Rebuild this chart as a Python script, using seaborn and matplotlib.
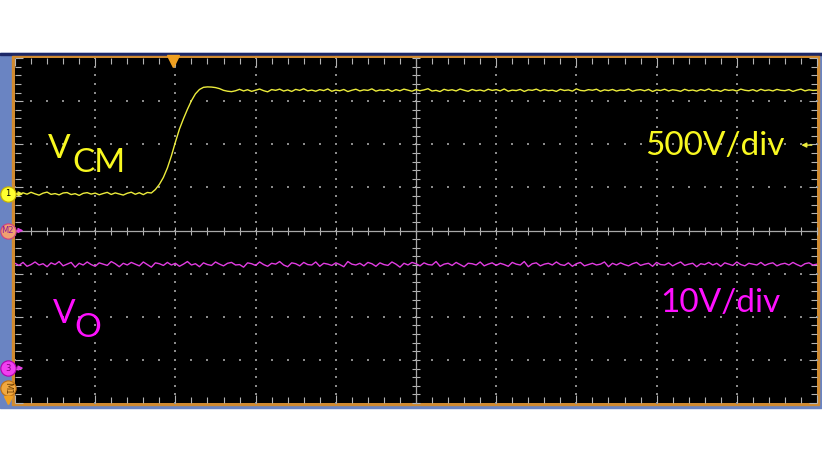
import numpy as np
import seaborn as sns
import matplotlib.pyplot as plt
from matplotlib.patches import Rectangle

# V_CM trace (channel 1, 500 V/div), volts, 201 samples over 10 div
vcm = [5, -10, 12, -4, 18, 0, -15, 8, 20, -6,
       3, -12, 10, 15, -8, 2, -18, 6, 14, -3,
       9, -11, 4, 17, -7, 11, -2, -14, 7, 19,
       -5, 13, -9, 16,
       10, 50, 110, 190, 300, 440, 600, 750, 870, 980,
       1080, 1160, 1210, 1235, 1240, 1238, 1232, 1220,
       1200, 1190, 1185, 1195, 1212, 1193, 1207, 1188, 1202, 1215,
       1196, 1183, 1209, 1200, 1214, 1192, 1205, 1187, 1211, 1199,
       1218, 1194, 1203, 1190, 1208, 1197, 1216, 1189, 1204, 1195,
       1210, 1186, 1201, 1213, 1193, 1206, 1199, 1217, 1191, 1204,
       1197, 1211, 1188, 1208, 1195, 1214, 1202, 1190, 1209, 1196,
       1205, 1219, 1192, 1200, 1186, 1212, 1198, 1207, 1193, 1215,
       1201, 1189, 1210, 1196, 1204, 1191, 1213, 1199, 1208, 1194,
       1216, 1190, 1203, 1197, 1211, 1187, 1206, 1200, 1214, 1193,
       1209, 1196, 1202, 1188, 1212, 1198, 1205, 1191, 1217, 1199,
       1194, 1208, 1201, 1213, 1189, 1206, 1197, 1210, 1192, 1204,
       1199, 1215, 1190, 1203, 1208, 1195, 1211, 1187, 1205, 1198,
       1213, 1193, 1207, 1200, 1189, 1212, 1196, 1204, 1191, 1209,
       1197, 1216, 1194, 1202, 1188, 1210, 1199, 1206, 1192, 1214,
       1201, 1195, 1208, 1190, 1212, 1197, 1205, 1193, 1211, 1200,
       1196, 1209, 1188, 1203, 1214, 1194, 1206, 1199, 1202]

# V_O trace (10 V/div), volts
vo = [-7.6, -8.1, -7.4, -8.3, -7.9, -7.3, -8.0, -7.7, -8.4, -7.5,
      -7.9, -7.2, -8.2, -7.8, -7.4, -8.5, -7.6, -8.0, -7.3, -7.9,
      -8.3, -7.5, -7.8, -8.1, -7.2, -7.7, -8.4, -7.6, -8.0, -7.4,
      -7.8, -8.2, -7.3, -7.9, -8.5, -7.5, -7.7, -8.1, -7.4, -8.0,
      -7.6, -8.3, -7.8, -7.2, -8.0, -7.7, -8.4, -7.5, -7.9, -8.1,
      -7.3, -7.8, -8.2, -7.6, -7.4, -8.0, -7.9, -8.5, -7.5, -7.7,
      -8.1, -7.3, -7.9, -8.3, -7.6, -7.8, -7.2, -8.0, -8.4, -7.5,
      -7.7, -8.2, -7.4, -7.9, -8.0, -7.3, -8.3, -7.6, -7.8, -8.1,
      -7.5, -7.9, -8.4, -7.2, -7.8, -8.0, -7.6, -8.2, -7.4, -7.7,
      -8.3, -7.5, -7.9, -8.1, -7.3, -7.8, -8.5, -7.6, -8.0, -7.4,
      -7.7, -8.2, -7.5, -7.9, -8.0, -7.2, -8.3, -7.8, -7.6, -8.1,
      -7.4, -7.9, -8.4, -7.6, -7.7, -8.0, -7.3, -8.2, -7.8, -7.5,
      -8.1, -7.6, -7.9, -8.3, -7.4, -7.8, -8.0, -7.2, -8.4, -7.7,
      -7.5, -8.2, -7.8, -7.6, -8.0, -7.3, -7.9, -8.1, -7.5, -8.3,
      -7.7, -7.4, -8.2, -7.9, -7.6, -8.0, -7.8, -7.3, -8.4, -7.6,
      -8.0, -7.5, -7.9, -8.2, -7.7, -7.4, -8.1, -7.8, -7.6, -8.3,
      -7.4, -7.9, -8.0, -7.5, -8.2, -7.7, -7.3, -8.1, -7.8, -7.6,
      -8.4, -7.7, -7.9, -7.4, -8.0, -7.6, -8.3, -7.5, -7.8, -8.1,
      -7.3, -7.9, -8.2, -7.6, -7.8, -8.0, -7.4, -8.1, -7.7, -7.5,
      -8.2, -7.8, -7.6, -8.0, -7.4, -7.9, -8.3, -7.7, -7.5, -8.0,
      -7.8]

ch1_scale, ch1_pos = 500, 0.85   # V/div, ground marker in div
vo_scale, vo_pos = 10, 0.0

yellow_tr = "#ecec3c"
yellow_tx = "#f8f820"
mag_tr = "#e23ce2"
mag_tx = "#ff10ff"
orange = "#d08a30"

fig = plt.figure(figsize=(8.22, 4.62), dpi=100, facecolor="white")
W, H = 822, 462


def frect(x0, y0, x1, y1, color):
    fig.patches.append(Rectangle((x0 / W, (H - y1) / H), (x1 - x0) / W, (y1 - y0) / H,
                                 transform=fig.transFigure, color=color, zorder=-1))


# scope frame
frect(0, 53, 822, 408, "#6a84c2")
frect(0, 53, 822, 55, "#1c2766")
frect(12, 56, 819, 405, orange)

rect = [15 / W, (H - 403) / H, 802 / W, 345 / H]
ax = fig.add_axes(rect)
ax.set_zorder(1)
ax.set_facecolor("black")
ax.set_xlim(-5, 5)
ax.set_ylim(-4, 4)
for s in ax.spines.values():
    s.set_visible(False)
ax.set_xticks(np.arange(-5, 5.01, 1))
ax.set_xticks(np.arange(-5, 5.01, 0.2), minor=True)
ax.set_yticks(np.arange(-4, 4.01, 1))
ax.set_yticks(np.arange(-4, 4.01, 0.2), minor=True)
ax.tick_params(which="both", direction="in", top=True, right=True, colors="#b4b4b4",
               labelleft=False, labelbottom=False, width=0.8)
ax.tick_params(which="major", length=6)
ax.tick_params(which="minor", length=4)

# dotted graticule
gx, gy = [], []
for xv in range(-4, 5):
    if xv != 0:
        for yv in np.arange(-4, 4.01, 0.2):
            gx.append(xv)
            gy.append(yv)
for yv in range(-3, 4):
    if yv != 0:
        for xv in np.arange(-5, 5.01, 0.2):
            gx.append(xv)
            gy.append(yv)
ax.scatter(gx, gy, s=1.6, marker="s", color="#8a8a8a", linewidths=0)

# centre cross + traces
ax2 = fig.add_axes(rect)
ax2.set_zorder(2)
ax2.patch.set_alpha(0)
ax2.set_xlim(-5, 5)
ax2.set_ylim(-4, 4)
ax2.spines["left"].set_position(("data", 0))
ax2.spines["bottom"].set_position(("data", 0))
ax2.spines["top"].set_visible(False)
ax2.spines["right"].set_visible(False)
for k in ("left", "bottom"):
    ax2.spines[k].set_color("#a8a8a8")
    ax2.spines[k].set_linewidth(0.9)
ax2.set_xticks([])
ax2.set_yticks([])
ax2.set_xticks(np.arange(-5, 5.01, 0.2), minor=True)
ax2.set_yticks(np.arange(-4, 4.01, 0.2), minor=True)
ax2.tick_params(which="minor", direction="inout", length=6, width=0.8, colors="#b4b4b4",
                labelleft=False, labelbottom=False)

t1 = np.linspace(-5, 5, len(vcm))
t2 = np.linspace(-5, 5, len(vo))
y1 = ch1_pos + np.array(vcm) / ch1_scale
y2 = vo_pos + np.array(vo) / vo_scale
sns.lineplot(x=t1, y=y1, ax=ax2, color=yellow_tr, linewidth=1.0, sort=False,
             estimator=None, zorder=4)
sns.lineplot(x=t2, y=y2, ax=ax2, color=mag_tr, linewidth=1.0, sort=False,
             estimator=None, zorder=4)
ax2.set_xlabel("")
ax2.set_ylabel("")

# labels
fam = ["Lato", "DejaVu Sans"]
fs = 24
ax2.text(-4.59, 1.68, "V", color=yellow_tx, fontsize=fs, family=fam, va="baseline")
ax2.text(-4.29, 1.36, "CM", color=yellow_tx, fontsize=fs, family=fam, va="baseline")
ax2.text(2.86, 1.75, "500V/div", color=yellow_tx, fontsize=fs, family=fam, va="baseline")
ax2.text(-4.53, -2.14, "V", color=mag_tx, fontsize=fs, family=fam, va="baseline")
ax2.text(-4.26, -2.47, "O", color=mag_tx, fontsize=fs, family=fam, va="baseline")
ax2.text(3.05, -1.89, "10V/div", color=mag_tx, fontsize=fs, family=fam, va="baseline")

# channel markers on left edge
mx = -5.09


def marker(y, face, edge, label, tcol, arrow_col=None, rot=0):
    ax2.plot(mx, y, "o", ms=11, mfc=face, mec=edge, mew=0.8, clip_on=False, zorder=6)
    ax2.text(mx, y, label, fontsize=6, color=tcol, ha="center", va="center",
             rotation=rot, clip_on=False, zorder=7)
    if arrow_col:
        ax2.annotate("", xy=(-4.86, y), xytext=(-5.01, y),
                     arrowprops=dict(arrowstyle="-|>", color=arrow_col, lw=1,
                                     mutation_scale=7), zorder=6)


marker(ch1_pos, "#ffff30", "#c8b000", "1", "black", yellow_tr)
marker(vo_pos, "#f0a070", "#d04080", "M2", "#8a1a9a", mag_tr)
marker(-3.19, "#f040f0", "#b000b0", "3", "#7a007a", mag_tr)
marker(-3.65, "#f0a840", "#c07010", "M1", "#6a3a00", None, rot=-90)
ax2.plot(mx, -3.93, "v", ms=6, color="#f0a020", clip_on=False, zorder=6)

# trigger position and level markers
ax2.plot(-3.03, 3.93, "v", ms=8, color="#f0a020", clip_on=False, zorder=6)
ax2.annotate("", xy=(4.77, 1.98), xytext=(4.97, 1.98),
             arrowprops=dict(arrowstyle="-|>", color=yellow_tr, lw=1, mutation_scale=7))

fig.savefig("out.png", dpi=100, facecolor="white")
